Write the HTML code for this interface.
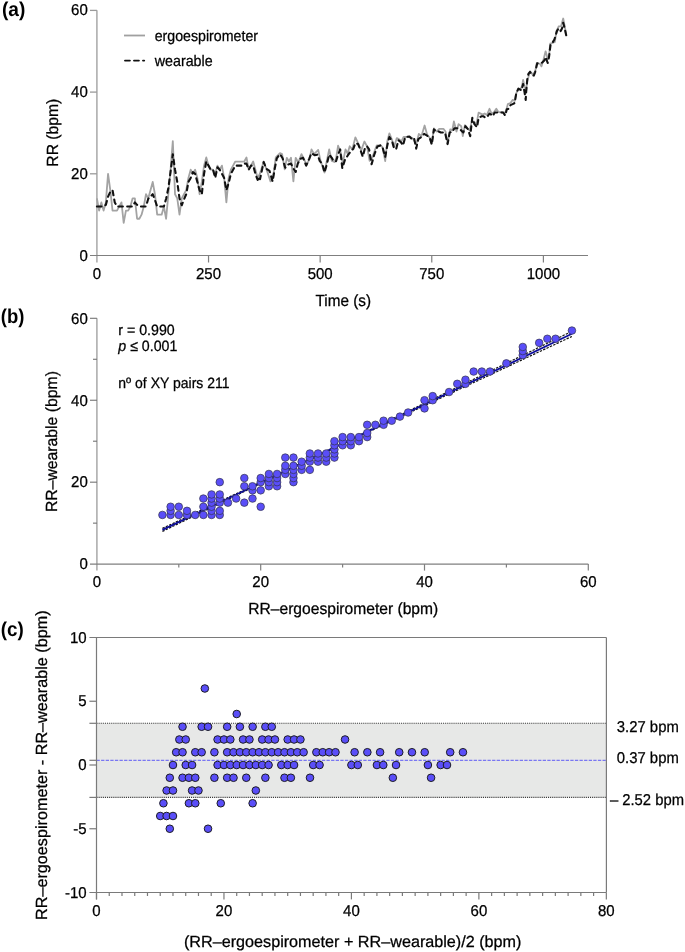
<!DOCTYPE html>
<html><head><meta charset="utf-8"><title>RR figure</title>
<style>
html,body{margin:0;padding:0;background:#fff;}
body{width:685px;height:952px;overflow:hidden;}
svg{display:block;font-family:'Liberation Sans', Arial, Helvetica, sans-serif;text-rendering:geometricPrecision;}
</style></head>
<body>
<svg width="685" height="952" viewBox="0 0 685 952">
<rect width="685" height="952" fill="#fff"/>
<text transform="translate(2.00,16.00) scale(1,1.06)" font-size="19" text-anchor="start" font-weight="bold" textLength="23.4" lengthAdjust="spacingAndGlyphs" fill="#000" stroke="#000" stroke-width="0" >(a)</text>
<line x1="96.90" y1="10.30" x2="96.90" y2="262.50" stroke="#a8a8a8" stroke-width="1.5" />
<line x1="90.00" y1="255.50" x2="588.00" y2="255.50" stroke="#7f7f7f" stroke-width="1.2" />
<line x1="90.00" y1="173.80" x2="96.90" y2="173.80" stroke="#9a9a9a" stroke-width="1.3" />
<line x1="90.00" y1="92.10" x2="96.90" y2="92.10" stroke="#9a9a9a" stroke-width="1.3" />
<line x1="90.00" y1="10.40" x2="96.90" y2="10.40" stroke="#9a9a9a" stroke-width="1.3" />
<line x1="208.53" y1="255.50" x2="208.53" y2="262.50" stroke="#7f7f7f" stroke-width="1.2" />
<line x1="320.15" y1="255.50" x2="320.15" y2="262.50" stroke="#7f7f7f" stroke-width="1.2" />
<line x1="431.77" y1="255.50" x2="431.77" y2="262.50" stroke="#7f7f7f" stroke-width="1.2" />
<line x1="543.40" y1="255.50" x2="543.40" y2="262.50" stroke="#7f7f7f" stroke-width="1.2" />
<text transform="translate(87.80,260.75) scale(1,1.05)" font-size="15" text-anchor="end" fill="#000" stroke="#000" stroke-width="0.25" >0</text>
<text transform="translate(87.80,179.15) scale(1,1.05)" font-size="15" text-anchor="end" fill="#000" stroke="#000" stroke-width="0.25" >20</text>
<text transform="translate(87.80,96.75) scale(1,1.05)" font-size="15" text-anchor="end" fill="#000" stroke="#000" stroke-width="0.25" >40</text>
<text transform="translate(87.80,15.05) scale(1,1.05)" font-size="15" text-anchor="end" fill="#000" stroke="#000" stroke-width="0.25" >60</text>
<text transform="translate(96.90,278.90) scale(1,1.05)" font-size="15" text-anchor="middle" fill="#000" stroke="#000" stroke-width="0.25" >0</text>
<text transform="translate(208.53,278.90) scale(1,1.05)" font-size="15" text-anchor="middle" fill="#000" stroke="#000" stroke-width="0.25" >250</text>
<text transform="translate(320.15,278.90) scale(1,1.05)" font-size="15" text-anchor="middle" fill="#000" stroke="#000" stroke-width="0.25" >500</text>
<text transform="translate(431.77,278.90) scale(1,1.05)" font-size="15" text-anchor="middle" fill="#000" stroke="#000" stroke-width="0.25" >750</text>
<text transform="translate(543.40,278.90) scale(1,1.05)" font-size="15" text-anchor="middle" fill="#000" stroke="#000" stroke-width="0.25" >1000</text>
<text transform="translate(343.30,306.30) scale(1,1.05)" font-size="15.4" text-anchor="middle" textLength="55.5" lengthAdjust="spacingAndGlyphs" fill="#000" stroke="#000" stroke-width="0.25" >Time (s)</text>
<text transform="translate(58.20,132.65) rotate(-90) scale(1,1.05)" font-size="15.4" text-anchor="middle" textLength="68" lengthAdjust="spacingAndGlyphs" fill="#000" stroke="#000" stroke-width="0.25" >RR (bpm)</text>
<line x1="124.00" y1="35.50" x2="145.00" y2="35.50" stroke="#a0a0a0" stroke-width="1.8" />
<text transform="translate(154.70,40.60) scale(1,1.05)" font-size="14.6" text-anchor="start" textLength="103.3" lengthAdjust="spacingAndGlyphs" fill="#000" stroke="#000" stroke-width="0.25" >ergoespirometer</text>
<line x1="125.00" y1="60.60" x2="144.20" y2="60.60" stroke="#111" stroke-width="1.9" stroke-dasharray="4.9,4.1" stroke-linecap="round"/>
<text transform="translate(154.70,65.70) scale(1,1.05)" font-size="14.6" text-anchor="start" textLength="58.0" lengthAdjust="spacingAndGlyphs" fill="#000" stroke="#000" stroke-width="0.25" >wearable</text>
<polyline points="96.90,198.31 99.13,210.56 101.37,202.40 103.60,210.56 105.83,202.40 108.06,173.80 110.30,190.14 112.53,210.56 114.76,210.56 116.99,210.56 119.23,206.48 121.46,202.40 123.69,222.82 125.92,210.56 128.16,210.56 130.39,206.48 132.62,198.31 134.85,198.31 137.09,218.74 139.32,218.74 141.55,214.65 143.78,206.48 146.01,194.22 148.25,198.31 150.48,190.14 152.71,181.97 154.94,194.22 157.18,214.65 159.41,214.65 161.64,214.65 163.88,206.48 166.11,218.74 168.34,194.22 170.57,169.72 172.81,141.12 175.04,194.22 177.27,198.31 179.50,214.65 181.74,198.31 183.97,194.22 186.20,190.14 188.43,177.88 190.67,169.72 192.90,173.80 195.13,169.72 197.36,177.88 199.59,194.22 201.83,181.97 204.06,165.63 206.29,157.46 208.53,165.63 210.76,169.72 212.99,169.72 215.22,173.80 217.45,165.63 219.69,169.72 221.92,165.63 224.15,177.88 226.38,202.40 228.62,177.88 230.85,169.72 233.08,165.63 235.31,161.55 237.55,161.55 239.78,161.55 242.01,161.55 244.25,161.55 246.48,157.46 248.71,169.72 250.94,165.63 253.18,161.55 255.41,169.72 257.64,177.88 259.87,173.80 261.10,169.90 263.70,161.50 266.30,168.80 270.50,181.40 273.10,177.20 275.80,157.30 280.00,153.10 282.10,154.10 284.70,169.30 286.80,157.80 288.90,161.50 291.00,157.80 293.40,181.40 295.70,157.80 298.30,162.50 301.50,154.10 304.10,159.40 306.70,164.60 309.40,159.40 311.50,149.40 314.10,154.10 318.20,149.90 320.30,159.90 324.50,172.50 326.60,162.00 329.20,149.40 331.80,160.90 334.40,162.00 336.00,158.80 338.10,145.70 340.70,152.50 342.80,163.00 345.50,149.40 347.60,153.60 349.70,146.20 352.30,149.40 355.40,137.30 358.10,143.10 361.20,150.40 364.40,141.50 367.00,146.20 369.60,160.90 372.10,158.00 374.70,150.70 376.80,145.40 380.50,145.40 382.60,147.50 385.20,161.20 387.30,141.20 389.40,133.30 392.10,140.20 394.20,146.50 396.80,138.10 398.90,139.10 401.50,141.20 403.60,137.00 405.70,137.00 409.90,137.00 412.50,138.10 416.20,144.40 418.80,133.90 421.50,136.00 424.60,125.50 427.10,134.60 429.70,137.80 431.80,143.00 433.90,128.30 436.60,131.50 439.20,128.80 443.40,128.80 445.50,131.50 447.60,143.00 450.20,129.40 452.30,130.40 453.90,121.50 456.50,131.50 458.60,124.10 461.20,126.20 462.80,136.20 464.90,125.20 467.50,128.30 469.60,130.40 471.70,122.00 473.80,121.50 476.50,124.10 478.60,112.60 482.60,114.60 484.70,113.50 486.80,115.10 489.50,108.80 491.60,113.50 493.70,112.50 496.30,108.80 498.40,112.00 504.20,112.50 505.70,112.50 507.80,104.10 510.50,103.00 512.60,99.90 514.70,100.90 516.20,93.60 518.30,88.30 520.40,89.40 522.00,86.20 523.10,79.90 524.60,86.20 526.20,90.40 527.30,81.00 530.00,71.40 532.60,74.40 535.10,71.80 536.80,63.00 540.10,63.90 541.40,66.40 543.10,61.30 545.60,51.30 547.70,58.80 549.00,56.30 550.20,43.70 552.70,42.90 554.80,42.00 556.50,31.10 558.60,26.50 561.10,26.10 563.20,18.50 564.50,25.20 566.20,34.50" fill="none" stroke="#a3a3a3" stroke-width="1.8" stroke-linejoin="round" />
<polyline points="96.90,206.48 99.13,206.48 101.37,206.48 103.60,206.48 105.83,204.85 108.06,196.68 110.30,191.77 112.53,190.14 114.76,202.40 116.99,206.48 119.23,206.48 121.46,206.48 123.69,206.48 125.92,206.48 128.16,206.48 130.39,206.48 132.62,206.48 134.85,202.40 137.09,204.85 139.32,206.48 141.55,206.48 143.78,206.48 146.01,206.48 148.25,198.72 150.48,196.68 152.71,194.22 154.94,199.94 157.18,206.48 159.41,206.48 161.64,206.48 163.88,206.48 166.11,198.72 168.34,188.10 170.57,171.76 172.81,154.19 175.04,169.72 177.27,181.97 179.50,198.31 181.74,205.25 183.97,199.54 186.20,194.22 188.43,181.97 190.67,177.88 192.90,172.17 195.13,173.80 197.36,181.97 199.59,190.14 201.83,194.22 204.06,173.80 206.29,161.55 208.53,165.63 210.76,169.72 212.99,169.72 215.22,177.88 217.45,167.26 219.69,169.72 221.92,173.80 224.15,177.88 226.38,190.14 228.62,183.20 230.85,173.80 233.08,169.72 235.31,165.63 237.55,165.63 239.78,165.63 242.01,165.63 244.25,163.59 246.48,163.59 248.71,169.72 250.94,165.63 253.18,165.63 255.41,173.80 257.64,179.93 259.87,176.66 260.00,179.30 263.70,162.00 266.30,168.80 269.50,170.90 272.60,181.40 274.70,168.80 276.80,158.30 280.00,154.10 282.60,158.30 285.20,167.80 287.80,164.60 291.00,163.60 293.60,168.80 295.70,172.00 297.80,163.60 300.40,158.80 303.10,157.80 306.20,165.70 309.40,158.30 311.50,153.10 314.60,155.20 317.60,154.60 319.70,160.90 322.40,164.10 324.50,172.50 326.60,165.10 329.20,154.60 331.80,157.80 333.40,160.90 336.00,161.40 338.10,154.60 340.20,149.40 342.30,168.30 344.90,159.90 347.60,155.70 350.70,151.50 353.30,148.80 355.40,143.10 358.10,144.10 360.20,149.40 362.80,156.70 364.90,148.30 367.00,146.20 369.10,149.40 371.60,164.30 374.20,154.90 377.40,146.50 380.50,145.40 382.60,147.50 385.20,157.00 387.30,145.40 389.40,137.00 392.10,141.20 394.20,149.10 396.30,148.60 398.40,140.20 401.00,142.30 403.10,145.40 405.20,137.00 409.40,136.50 412.00,139.10 414.10,138.10 416.20,148.60 418.30,139.10 421.50,137.00 424.10,133.90 427.10,135.70 429.70,137.80 431.80,144.60 433.90,129.40 436.60,132.00 438.70,131.50 440.80,132.50 445.00,132.50 447.60,144.10 449.70,132.50 452.30,132.00 454.40,128.30 458.60,128.30 461.20,130.40 463.30,132.50 465.40,126.20 468.10,129.40 470.20,136.20 471.20,127.30 472.30,117.80 474.40,124.10 477.00,127.30 478.60,117.80 481.70,116.20 483.20,116.20 485.30,117.70 487.40,116.70 489.50,113.50 491.00,114.60 492.60,116.20 494.70,112.50 497.90,112.50 503.10,112.50 505.20,115.60 506.80,109.30 508.90,108.80 510.50,105.10 512.60,104.10 514.70,103.00 516.20,93.60 518.30,88.80 519.90,89.40 521.50,90.40 523.10,84.10 524.60,92.50 525.70,99.90 526.20,91.50 527.30,79.00 528.40,73.90 530.00,71.80 532.10,75.20 533.80,75.60 535.10,72.30 536.30,67.20 537.20,63.40 539.70,63.40 542.20,62.60 544.30,60.50 545.60,57.10 547.70,63.00 549.00,57.10 549.80,50.40 550.60,44.50 551.90,43.70 554.40,39.50 555.70,35.30 556.90,31.10 558.20,29.00 559.90,28.60 560.70,31.10 562.00,28.60 563.20,22.70 564.50,27.70 566.20,35.30" fill="none" stroke="#111" stroke-width="2.1" stroke-linejoin="round" stroke-dasharray="4.6,4.3" stroke-linecap="round"/>
<text transform="translate(0.80,322.90) scale(1,1.06)" font-size="19" text-anchor="start" font-weight="bold" textLength="23.6" lengthAdjust="spacingAndGlyphs" fill="#000" stroke="#000" stroke-width="0" >(b)</text>
<line x1="96.90" y1="318.30" x2="96.90" y2="570.60" stroke="#a8a8a8" stroke-width="1.5" />
<line x1="90.00" y1="564.10" x2="588.30" y2="564.10" stroke="#7f7f7f" stroke-width="1.2" />
<line x1="90.00" y1="482.16" x2="96.90" y2="482.16" stroke="#666" stroke-width="1.0" />
<line x1="90.00" y1="400.22" x2="96.90" y2="400.22" stroke="#666" stroke-width="1.0" />
<line x1="90.00" y1="318.28" x2="96.90" y2="318.28" stroke="#666" stroke-width="1.0" />
<line x1="93.00" y1="523.13" x2="96.90" y2="523.13" stroke="#666" stroke-width="1.0" />
<line x1="93.00" y1="441.19" x2="96.90" y2="441.19" stroke="#666" stroke-width="1.0" />
<line x1="93.00" y1="359.25" x2="96.90" y2="359.25" stroke="#666" stroke-width="1.0" />
<line x1="260.70" y1="564.10" x2="260.70" y2="570.60" stroke="#7f7f7f" stroke-width="1.2" />
<line x1="424.50" y1="564.10" x2="424.50" y2="570.60" stroke="#7f7f7f" stroke-width="1.2" />
<line x1="588.30" y1="564.10" x2="588.30" y2="570.60" stroke="#7f7f7f" stroke-width="1.2" />
<line x1="178.80" y1="564.10" x2="178.80" y2="567.60" stroke="#7f7f7f" stroke-width="1.2" />
<line x1="342.60" y1="564.10" x2="342.60" y2="567.60" stroke="#7f7f7f" stroke-width="1.2" />
<line x1="506.40" y1="564.10" x2="506.40" y2="567.60" stroke="#7f7f7f" stroke-width="1.2" />
<text transform="translate(87.80,569.20) scale(1,1.05)" font-size="15" text-anchor="end" fill="#000" stroke="#000" stroke-width="0.25" >0</text>
<text transform="translate(96.90,586.80) scale(1,1.05)" font-size="15" text-anchor="middle" fill="#000" stroke="#000" stroke-width="0.25" >0</text>
<text transform="translate(87.80,487.26) scale(1,1.05)" font-size="15" text-anchor="end" fill="#000" stroke="#000" stroke-width="0.25" >20</text>
<text transform="translate(260.70,586.80) scale(1,1.05)" font-size="15" text-anchor="middle" fill="#000" stroke="#000" stroke-width="0.25" >20</text>
<text transform="translate(87.80,405.62) scale(1,1.05)" font-size="15" text-anchor="end" fill="#000" stroke="#000" stroke-width="0.25" >40</text>
<text transform="translate(424.50,586.80) scale(1,1.05)" font-size="15" text-anchor="middle" fill="#000" stroke="#000" stroke-width="0.25" >40</text>
<text transform="translate(87.80,323.88) scale(1,1.05)" font-size="15" text-anchor="end" fill="#000" stroke="#000" stroke-width="0.25" >60</text>
<text transform="translate(588.30,586.80) scale(1,1.05)" font-size="15" text-anchor="middle" fill="#000" stroke="#000" stroke-width="0.25" >60</text>
<text transform="translate(343.25,613.80) scale(1,1.05)" font-size="15.4" text-anchor="middle" textLength="190" lengthAdjust="spacingAndGlyphs" fill="#000" stroke="#000" stroke-width="0.25" >RR–ergoespirometer (bpm)</text>
<text transform="translate(57.40,441.60) rotate(-90) scale(1,1.05)" font-size="15.4" text-anchor="middle" textLength="141" lengthAdjust="spacingAndGlyphs" fill="#000" stroke="#000" stroke-width="0.25" >RR–wearable (bpm)</text>
<text transform="translate(118.30,334.50) scale(1,1.05)" font-size="14.2" text-anchor="start" fill="#000" stroke="#000" stroke-width="0.25" >r = 0.990</text>
<text transform="translate(118.3,351) scale(1,1.05)" font-size="14.2" fill="#000" stroke="#000" stroke-width="0.25"><tspan font-style="italic">p</tspan> ≤ 0.001</text>
<text transform="translate(118.30,388.00) scale(1,1.05)" font-size="14.2" text-anchor="start" textLength="111.2" lengthAdjust="spacingAndGlyphs" fill="#000" stroke="#000" stroke-width="0.25" >nº of XY pairs 211</text>
<path d="M162.42,528.39 L170.61,524.54 L178.80,520.70 L186.99,516.85 L195.18,513.00 L203.37,509.15 L211.56,505.30 L219.75,501.45 L227.94,497.60 L236.13,493.75 L244.32,489.89 L252.51,486.03 L260.70,482.17 L268.89,478.31 L277.08,474.43 L285.27,470.55 L293.46,466.66 L301.65,462.76 L309.84,458.85 L318.03,454.92 L326.22,450.98 L334.41,447.03 L342.60,443.07 L350.79,439.10 L358.98,435.12 L367.17,431.14 L375.36,427.16 L383.55,423.17 L391.74,419.19 L399.93,415.20 L408.12,411.20 L416.31,407.21 L424.50,403.22 L432.69,399.22 L440.88,395.23 L449.07,391.23 L457.26,387.24 L465.45,383.24 L473.64,379.25 L481.83,375.25 L490.02,371.25 L498.21,367.25 L506.40,363.26 L514.59,359.26 L522.78,355.26 L530.97,351.26 L539.16,347.26 L547.35,343.27 L555.54,339.27 L563.73,335.27 L571.92,331.27" fill="none" stroke="#111" stroke-width="1.2" stroke-dasharray="2.4,1.3"/>
<path d="M162.42,531.39 L170.61,527.40 L178.80,523.40 L186.99,519.41 L195.18,515.41 L203.37,511.42 L211.56,507.43 L219.75,503.43 L227.94,499.44 L236.13,495.46 L244.32,491.47 L252.51,487.49 L260.70,483.51 L268.89,479.53 L277.08,475.56 L285.27,471.60 L293.46,467.65 L301.65,463.71 L309.84,459.78 L318.03,455.87 L326.22,451.97 L334.41,448.08 L342.60,444.20 L350.79,440.32 L358.98,436.46 L367.17,432.60 L375.36,428.74 L383.55,424.88 L391.74,421.03 L399.93,417.18 L408.12,413.33 L416.31,409.48 L424.50,405.63 L432.69,401.78 L440.88,397.93 L449.07,394.09 L457.26,390.24 L465.45,386.40 L473.64,382.55 L481.83,378.71 L490.02,374.86 L498.21,371.02 L506.40,367.17 L514.59,363.33 L522.78,359.49 L530.97,355.64 L539.16,351.80 L547.35,347.96 L555.54,344.11 L563.73,340.27 L571.92,336.43" fill="none" stroke="#111" stroke-width="1.2" stroke-dasharray="2.4,1.3"/>
<line x1="162.42" y1="529.89" x2="571.92" y2="333.85" stroke="#0c0c9a" stroke-width="1.7" />
<circle cx="260.70" cy="506.74" r="3.8" fill="#5a4ef8" stroke="#34344a" stroke-width="0.7"/>
<circle cx="293.46" cy="482.16" r="3.8" fill="#5a4ef8" stroke="#34344a" stroke-width="0.7"/>
<circle cx="219.75" cy="514.94" r="3.8" fill="#5a4ef8" stroke="#34344a" stroke-width="0.7"/>
<circle cx="244.32" cy="502.65" r="3.8" fill="#5a4ef8" stroke="#34344a" stroke-width="0.7"/>
<circle cx="252.51" cy="498.55" r="3.8" fill="#5a4ef8" stroke="#34344a" stroke-width="0.7"/>
<circle cx="277.08" cy="486.26" r="3.8" fill="#5a4ef8" stroke="#34344a" stroke-width="0.7"/>
<circle cx="293.46" cy="478.06" r="3.8" fill="#5a4ef8" stroke="#34344a" stroke-width="0.7"/>
<circle cx="309.84" cy="469.87" r="3.8" fill="#5a4ef8" stroke="#34344a" stroke-width="0.7"/>
<circle cx="326.22" cy="461.68" r="3.8" fill="#5a4ef8" stroke="#34344a" stroke-width="0.7"/>
<circle cx="334.41" cy="457.58" r="3.8" fill="#5a4ef8" stroke="#34344a" stroke-width="0.7"/>
<circle cx="211.56" cy="514.94" r="3.8" fill="#5a4ef8" stroke="#34344a" stroke-width="0.7"/>
<circle cx="219.75" cy="510.84" r="3.8" fill="#5a4ef8" stroke="#34344a" stroke-width="0.7"/>
<circle cx="260.70" cy="490.35" r="3.8" fill="#5a4ef8" stroke="#34344a" stroke-width="0.7"/>
<circle cx="268.89" cy="486.26" r="3.8" fill="#5a4ef8" stroke="#34344a" stroke-width="0.7"/>
<circle cx="277.08" cy="482.16" r="3.8" fill="#5a4ef8" stroke="#34344a" stroke-width="0.7"/>
<circle cx="293.46" cy="473.97" r="3.8" fill="#5a4ef8" stroke="#34344a" stroke-width="0.7"/>
<circle cx="301.65" cy="469.87" r="3.8" fill="#5a4ef8" stroke="#34344a" stroke-width="0.7"/>
<circle cx="318.03" cy="461.68" r="3.8" fill="#5a4ef8" stroke="#34344a" stroke-width="0.7"/>
<circle cx="326.22" cy="457.58" r="3.8" fill="#5a4ef8" stroke="#34344a" stroke-width="0.7"/>
<circle cx="334.41" cy="453.48" r="3.8" fill="#5a4ef8" stroke="#34344a" stroke-width="0.7"/>
<circle cx="350.79" cy="445.29" r="3.8" fill="#5a4ef8" stroke="#34344a" stroke-width="0.7"/>
<circle cx="358.98" cy="441.19" r="3.8" fill="#5a4ef8" stroke="#34344a" stroke-width="0.7"/>
<circle cx="367.17" cy="437.09" r="3.8" fill="#5a4ef8" stroke="#34344a" stroke-width="0.7"/>
<circle cx="424.50" cy="408.41" r="3.8" fill="#5a4ef8" stroke="#34344a" stroke-width="0.7"/>
<circle cx="203.37" cy="514.94" r="3.8" fill="#5a4ef8" stroke="#34344a" stroke-width="0.7"/>
<circle cx="211.56" cy="510.84" r="3.8" fill="#5a4ef8" stroke="#34344a" stroke-width="0.7"/>
<circle cx="227.94" cy="502.65" r="3.8" fill="#5a4ef8" stroke="#34344a" stroke-width="0.7"/>
<circle cx="236.13" cy="498.55" r="3.8" fill="#5a4ef8" stroke="#34344a" stroke-width="0.7"/>
<circle cx="252.51" cy="490.35" r="3.8" fill="#5a4ef8" stroke="#34344a" stroke-width="0.7"/>
<circle cx="268.89" cy="482.16" r="3.8" fill="#5a4ef8" stroke="#34344a" stroke-width="0.7"/>
<circle cx="277.08" cy="478.06" r="3.8" fill="#5a4ef8" stroke="#34344a" stroke-width="0.7"/>
<circle cx="285.27" cy="473.97" r="3.8" fill="#5a4ef8" stroke="#34344a" stroke-width="0.7"/>
<circle cx="293.46" cy="469.87" r="3.8" fill="#5a4ef8" stroke="#34344a" stroke-width="0.7"/>
<circle cx="301.65" cy="465.77" r="3.8" fill="#5a4ef8" stroke="#34344a" stroke-width="0.7"/>
<circle cx="309.84" cy="461.68" r="3.8" fill="#5a4ef8" stroke="#34344a" stroke-width="0.7"/>
<circle cx="318.03" cy="457.58" r="3.8" fill="#5a4ef8" stroke="#34344a" stroke-width="0.7"/>
<circle cx="326.22" cy="453.48" r="3.8" fill="#5a4ef8" stroke="#34344a" stroke-width="0.7"/>
<circle cx="334.41" cy="449.38" r="3.8" fill="#5a4ef8" stroke="#34344a" stroke-width="0.7"/>
<circle cx="342.60" cy="445.29" r="3.8" fill="#5a4ef8" stroke="#34344a" stroke-width="0.7"/>
<circle cx="350.79" cy="441.19" r="3.8" fill="#5a4ef8" stroke="#34344a" stroke-width="0.7"/>
<circle cx="358.98" cy="437.09" r="3.8" fill="#5a4ef8" stroke="#34344a" stroke-width="0.7"/>
<circle cx="367.17" cy="433.00" r="3.8" fill="#5a4ef8" stroke="#34344a" stroke-width="0.7"/>
<circle cx="383.55" cy="424.80" r="3.8" fill="#5a4ef8" stroke="#34344a" stroke-width="0.7"/>
<circle cx="391.74" cy="420.71" r="3.8" fill="#5a4ef8" stroke="#34344a" stroke-width="0.7"/>
<circle cx="399.93" cy="416.61" r="3.8" fill="#5a4ef8" stroke="#34344a" stroke-width="0.7"/>
<circle cx="408.12" cy="412.51" r="3.8" fill="#5a4ef8" stroke="#34344a" stroke-width="0.7"/>
<circle cx="432.69" cy="400.22" r="3.8" fill="#5a4ef8" stroke="#34344a" stroke-width="0.7"/>
<circle cx="449.07" cy="392.03" r="3.8" fill="#5a4ef8" stroke="#34344a" stroke-width="0.7"/>
<circle cx="465.45" cy="383.83" r="3.8" fill="#5a4ef8" stroke="#34344a" stroke-width="0.7"/>
<circle cx="490.02" cy="371.54" r="3.8" fill="#5a4ef8" stroke="#34344a" stroke-width="0.7"/>
<circle cx="506.40" cy="363.35" r="3.8" fill="#5a4ef8" stroke="#34344a" stroke-width="0.7"/>
<circle cx="522.78" cy="355.15" r="3.8" fill="#5a4ef8" stroke="#34344a" stroke-width="0.7"/>
<circle cx="555.54" cy="338.76" r="3.8" fill="#5a4ef8" stroke="#34344a" stroke-width="0.7"/>
<circle cx="571.92" cy="330.57" r="3.8" fill="#5a4ef8" stroke="#34344a" stroke-width="0.7"/>
<circle cx="195.18" cy="514.94" r="3.8" fill="#5a4ef8" stroke="#34344a" stroke-width="0.7"/>
<circle cx="211.56" cy="506.74" r="3.8" fill="#5a4ef8" stroke="#34344a" stroke-width="0.7"/>
<circle cx="219.75" cy="502.65" r="3.8" fill="#5a4ef8" stroke="#34344a" stroke-width="0.7"/>
<circle cx="252.51" cy="486.26" r="3.8" fill="#5a4ef8" stroke="#34344a" stroke-width="0.7"/>
<circle cx="260.70" cy="482.16" r="3.8" fill="#5a4ef8" stroke="#34344a" stroke-width="0.7"/>
<circle cx="268.89" cy="478.06" r="3.8" fill="#5a4ef8" stroke="#34344a" stroke-width="0.7"/>
<circle cx="277.08" cy="473.97" r="3.8" fill="#5a4ef8" stroke="#34344a" stroke-width="0.7"/>
<circle cx="285.27" cy="469.87" r="3.8" fill="#5a4ef8" stroke="#34344a" stroke-width="0.7"/>
<circle cx="293.46" cy="465.77" r="3.8" fill="#5a4ef8" stroke="#34344a" stroke-width="0.7"/>
<circle cx="301.65" cy="461.68" r="3.8" fill="#5a4ef8" stroke="#34344a" stroke-width="0.7"/>
<circle cx="309.84" cy="457.58" r="3.8" fill="#5a4ef8" stroke="#34344a" stroke-width="0.7"/>
<circle cx="318.03" cy="453.48" r="3.8" fill="#5a4ef8" stroke="#34344a" stroke-width="0.7"/>
<circle cx="334.41" cy="445.29" r="3.8" fill="#5a4ef8" stroke="#34344a" stroke-width="0.7"/>
<circle cx="342.60" cy="441.19" r="3.8" fill="#5a4ef8" stroke="#34344a" stroke-width="0.7"/>
<circle cx="350.79" cy="437.09" r="3.8" fill="#5a4ef8" stroke="#34344a" stroke-width="0.7"/>
<circle cx="375.36" cy="424.80" r="3.8" fill="#5a4ef8" stroke="#34344a" stroke-width="0.7"/>
<circle cx="383.55" cy="420.71" r="3.8" fill="#5a4ef8" stroke="#34344a" stroke-width="0.7"/>
<circle cx="424.50" cy="400.22" r="3.8" fill="#5a4ef8" stroke="#34344a" stroke-width="0.7"/>
<circle cx="432.69" cy="396.12" r="3.8" fill="#5a4ef8" stroke="#34344a" stroke-width="0.7"/>
<circle cx="457.26" cy="383.83" r="3.8" fill="#5a4ef8" stroke="#34344a" stroke-width="0.7"/>
<circle cx="465.45" cy="379.74" r="3.8" fill="#5a4ef8" stroke="#34344a" stroke-width="0.7"/>
<circle cx="481.83" cy="371.54" r="3.8" fill="#5a4ef8" stroke="#34344a" stroke-width="0.7"/>
<circle cx="522.78" cy="351.06" r="3.8" fill="#5a4ef8" stroke="#34344a" stroke-width="0.7"/>
<circle cx="539.16" cy="342.86" r="3.8" fill="#5a4ef8" stroke="#34344a" stroke-width="0.7"/>
<circle cx="547.35" cy="338.76" r="3.8" fill="#5a4ef8" stroke="#34344a" stroke-width="0.7"/>
<circle cx="186.99" cy="514.94" r="3.8" fill="#5a4ef8" stroke="#34344a" stroke-width="0.7"/>
<circle cx="203.37" cy="506.74" r="3.8" fill="#5a4ef8" stroke="#34344a" stroke-width="0.7"/>
<circle cx="211.56" cy="502.65" r="3.8" fill="#5a4ef8" stroke="#34344a" stroke-width="0.7"/>
<circle cx="219.75" cy="498.55" r="3.8" fill="#5a4ef8" stroke="#34344a" stroke-width="0.7"/>
<circle cx="244.32" cy="486.26" r="3.8" fill="#5a4ef8" stroke="#34344a" stroke-width="0.7"/>
<circle cx="260.70" cy="478.06" r="3.8" fill="#5a4ef8" stroke="#34344a" stroke-width="0.7"/>
<circle cx="268.89" cy="473.97" r="3.8" fill="#5a4ef8" stroke="#34344a" stroke-width="0.7"/>
<circle cx="285.27" cy="465.77" r="3.8" fill="#5a4ef8" stroke="#34344a" stroke-width="0.7"/>
<circle cx="309.84" cy="453.48" r="3.8" fill="#5a4ef8" stroke="#34344a" stroke-width="0.7"/>
<circle cx="334.41" cy="441.19" r="3.8" fill="#5a4ef8" stroke="#34344a" stroke-width="0.7"/>
<circle cx="342.60" cy="437.09" r="3.8" fill="#5a4ef8" stroke="#34344a" stroke-width="0.7"/>
<circle cx="367.17" cy="424.80" r="3.8" fill="#5a4ef8" stroke="#34344a" stroke-width="0.7"/>
<circle cx="473.64" cy="371.54" r="3.8" fill="#5a4ef8" stroke="#34344a" stroke-width="0.7"/>
<circle cx="522.78" cy="346.96" r="3.8" fill="#5a4ef8" stroke="#34344a" stroke-width="0.7"/>
<circle cx="178.80" cy="514.94" r="3.8" fill="#5a4ef8" stroke="#34344a" stroke-width="0.7"/>
<circle cx="186.99" cy="510.84" r="3.8" fill="#5a4ef8" stroke="#34344a" stroke-width="0.7"/>
<circle cx="211.56" cy="498.55" r="3.8" fill="#5a4ef8" stroke="#34344a" stroke-width="0.7"/>
<circle cx="219.75" cy="494.45" r="3.8" fill="#5a4ef8" stroke="#34344a" stroke-width="0.7"/>
<circle cx="293.46" cy="457.58" r="3.8" fill="#5a4ef8" stroke="#34344a" stroke-width="0.7"/>
<circle cx="170.61" cy="514.94" r="3.8" fill="#5a4ef8" stroke="#34344a" stroke-width="0.7"/>
<circle cx="203.37" cy="498.55" r="3.8" fill="#5a4ef8" stroke="#34344a" stroke-width="0.7"/>
<circle cx="211.56" cy="494.45" r="3.8" fill="#5a4ef8" stroke="#34344a" stroke-width="0.7"/>
<circle cx="244.32" cy="478.06" r="3.8" fill="#5a4ef8" stroke="#34344a" stroke-width="0.7"/>
<circle cx="285.27" cy="457.58" r="3.8" fill="#5a4ef8" stroke="#34344a" stroke-width="0.7"/>
<circle cx="162.42" cy="514.94" r="3.8" fill="#5a4ef8" stroke="#34344a" stroke-width="0.7"/>
<circle cx="170.61" cy="510.84" r="3.8" fill="#5a4ef8" stroke="#34344a" stroke-width="0.7"/>
<circle cx="178.80" cy="506.74" r="3.8" fill="#5a4ef8" stroke="#34344a" stroke-width="0.7"/>
<circle cx="170.61" cy="506.74" r="3.8" fill="#5a4ef8" stroke="#34344a" stroke-width="0.7"/>
<circle cx="219.75" cy="482.16" r="3.8" fill="#5a4ef8" stroke="#34344a" stroke-width="0.7"/>
<text transform="translate(0.80,635.90) scale(1,1.06)" font-size="19" text-anchor="start" font-weight="bold" textLength="23.0" lengthAdjust="spacingAndGlyphs" fill="#000" stroke="#000" stroke-width="0" >(c)</text>
<rect x="96.5" y="723.3" width="509.90" height="74.10" fill="#e7e8e7"/>
<line x1="96.50" y1="723.30" x2="606.40" y2="723.30" stroke="#3a3a3a" stroke-width="1.1" stroke-dasharray="1.1,1.0"/>
<line x1="96.50" y1="797.40" x2="606.40" y2="797.40" stroke="#3a3a3a" stroke-width="1.1" stroke-dasharray="1.1,1.0"/>
<line x1="96.50" y1="760.30" x2="606.40" y2="760.30" stroke="#5f5af5" stroke-width="1" stroke-dasharray="3.3,1.3" stroke-dashoffset="0"/>
<line x1="89.40" y1="723.30" x2="96.50" y2="723.30" stroke="#7a7a7a" stroke-width="1.2" />
<line x1="89.40" y1="760.30" x2="96.50" y2="760.30" stroke="#7a7a7a" stroke-width="1.2" />
<line x1="89.40" y1="797.40" x2="96.50" y2="797.40" stroke="#7a7a7a" stroke-width="1.2" />
<line x1="96.50" y1="637.50" x2="96.50" y2="899.40" stroke="#7a7a7a" stroke-width="1.2" />
<line x1="89.40" y1="892.50" x2="606.40" y2="892.50" stroke="#7a7a7a" stroke-width="1.2" />
<line x1="89.40" y1="637.50" x2="606.40" y2="637.50" stroke="#7a7a7a" stroke-width="1.2" />
<line x1="606.40" y1="637.50" x2="606.40" y2="892.50" stroke="#7a7a7a" stroke-width="1.2" />
<line x1="89.40" y1="701.25" x2="96.50" y2="701.25" stroke="#7a7a7a" stroke-width="1.2" />
<line x1="89.40" y1="765.00" x2="96.50" y2="765.00" stroke="#7a7a7a" stroke-width="1.2" />
<line x1="89.40" y1="828.75" x2="96.50" y2="828.75" stroke="#7a7a7a" stroke-width="1.2" />
<line x1="96.50" y1="892.50" x2="96.50" y2="899.40" stroke="#7a7a7a" stroke-width="1.2" />
<line x1="109.25" y1="892.50" x2="109.25" y2="896.00" stroke="#7a7a7a" stroke-width="1.2" />
<line x1="121.99" y1="892.50" x2="121.99" y2="896.00" stroke="#7a7a7a" stroke-width="1.2" />
<line x1="134.74" y1="892.50" x2="134.74" y2="896.00" stroke="#7a7a7a" stroke-width="1.2" />
<line x1="147.48" y1="892.50" x2="147.48" y2="896.00" stroke="#7a7a7a" stroke-width="1.2" />
<line x1="160.23" y1="892.50" x2="160.23" y2="896.00" stroke="#7a7a7a" stroke-width="1.2" />
<line x1="172.98" y1="892.50" x2="172.98" y2="896.00" stroke="#7a7a7a" stroke-width="1.2" />
<line x1="185.72" y1="892.50" x2="185.72" y2="896.00" stroke="#7a7a7a" stroke-width="1.2" />
<line x1="198.47" y1="892.50" x2="198.47" y2="896.00" stroke="#7a7a7a" stroke-width="1.2" />
<line x1="211.21" y1="892.50" x2="211.21" y2="896.00" stroke="#7a7a7a" stroke-width="1.2" />
<line x1="223.96" y1="892.50" x2="223.96" y2="899.40" stroke="#7a7a7a" stroke-width="1.2" />
<line x1="236.71" y1="892.50" x2="236.71" y2="896.00" stroke="#7a7a7a" stroke-width="1.2" />
<line x1="249.45" y1="892.50" x2="249.45" y2="896.00" stroke="#7a7a7a" stroke-width="1.2" />
<line x1="262.20" y1="892.50" x2="262.20" y2="896.00" stroke="#7a7a7a" stroke-width="1.2" />
<line x1="274.94" y1="892.50" x2="274.94" y2="896.00" stroke="#7a7a7a" stroke-width="1.2" />
<line x1="287.69" y1="892.50" x2="287.69" y2="896.00" stroke="#7a7a7a" stroke-width="1.2" />
<line x1="300.44" y1="892.50" x2="300.44" y2="896.00" stroke="#7a7a7a" stroke-width="1.2" />
<line x1="313.18" y1="892.50" x2="313.18" y2="896.00" stroke="#7a7a7a" stroke-width="1.2" />
<line x1="325.93" y1="892.50" x2="325.93" y2="896.00" stroke="#7a7a7a" stroke-width="1.2" />
<line x1="338.67" y1="892.50" x2="338.67" y2="896.00" stroke="#7a7a7a" stroke-width="1.2" />
<line x1="351.42" y1="892.50" x2="351.42" y2="899.40" stroke="#7a7a7a" stroke-width="1.2" />
<line x1="364.17" y1="892.50" x2="364.17" y2="896.00" stroke="#7a7a7a" stroke-width="1.2" />
<line x1="376.91" y1="892.50" x2="376.91" y2="896.00" stroke="#7a7a7a" stroke-width="1.2" />
<line x1="389.66" y1="892.50" x2="389.66" y2="896.00" stroke="#7a7a7a" stroke-width="1.2" />
<line x1="402.40" y1="892.50" x2="402.40" y2="896.00" stroke="#7a7a7a" stroke-width="1.2" />
<line x1="415.15" y1="892.50" x2="415.15" y2="896.00" stroke="#7a7a7a" stroke-width="1.2" />
<line x1="427.90" y1="892.50" x2="427.90" y2="896.00" stroke="#7a7a7a" stroke-width="1.2" />
<line x1="440.64" y1="892.50" x2="440.64" y2="896.00" stroke="#7a7a7a" stroke-width="1.2" />
<line x1="453.39" y1="892.50" x2="453.39" y2="896.00" stroke="#7a7a7a" stroke-width="1.2" />
<line x1="466.13" y1="892.50" x2="466.13" y2="896.00" stroke="#7a7a7a" stroke-width="1.2" />
<line x1="478.88" y1="892.50" x2="478.88" y2="899.40" stroke="#7a7a7a" stroke-width="1.2" />
<line x1="491.63" y1="892.50" x2="491.63" y2="896.00" stroke="#7a7a7a" stroke-width="1.2" />
<line x1="504.37" y1="892.50" x2="504.37" y2="896.00" stroke="#7a7a7a" stroke-width="1.2" />
<line x1="517.12" y1="892.50" x2="517.12" y2="896.00" stroke="#7a7a7a" stroke-width="1.2" />
<line x1="529.86" y1="892.50" x2="529.86" y2="896.00" stroke="#7a7a7a" stroke-width="1.2" />
<line x1="542.61" y1="892.50" x2="542.61" y2="896.00" stroke="#7a7a7a" stroke-width="1.2" />
<line x1="555.36" y1="892.50" x2="555.36" y2="896.00" stroke="#7a7a7a" stroke-width="1.2" />
<line x1="568.10" y1="892.50" x2="568.10" y2="896.00" stroke="#7a7a7a" stroke-width="1.2" />
<line x1="580.85" y1="892.50" x2="580.85" y2="896.00" stroke="#7a7a7a" stroke-width="1.2" />
<line x1="593.59" y1="892.50" x2="593.59" y2="896.00" stroke="#7a7a7a" stroke-width="1.2" />
<line x1="606.34" y1="892.50" x2="606.34" y2="899.40" stroke="#7a7a7a" stroke-width="1.2" />
<text transform="translate(86.70,642.75) scale(1,1.05)" font-size="15" text-anchor="end" fill="#000" stroke="#000" stroke-width="0.25" >10</text>
<text transform="translate(86.70,705.70) scale(1,1.05)" font-size="15" text-anchor="end" fill="#000" stroke="#000" stroke-width="0.25" >5</text>
<text transform="translate(86.70,770.25) scale(1,1.05)" font-size="15" text-anchor="end" fill="#000" stroke="#000" stroke-width="0.25" >0</text>
<text transform="translate(86.70,834.00) scale(1,1.05)" font-size="15" text-anchor="end" fill="#000" stroke="#000" stroke-width="0.25" >-5</text>
<text transform="translate(86.70,897.75) scale(1,1.05)" font-size="15" text-anchor="end" fill="#000" stroke="#000" stroke-width="0.25" >-10</text>
<text transform="translate(96.50,915.70) scale(1,1.05)" font-size="15" text-anchor="middle" fill="#000" stroke="#000" stroke-width="0.25" >0</text>
<text transform="translate(223.96,915.70) scale(1,1.05)" font-size="15" text-anchor="middle" fill="#000" stroke="#000" stroke-width="0.25" >20</text>
<text transform="translate(351.42,915.70) scale(1,1.05)" font-size="15" text-anchor="middle" fill="#000" stroke="#000" stroke-width="0.25" >40</text>
<text transform="translate(478.88,915.70) scale(1,1.05)" font-size="15" text-anchor="middle" fill="#000" stroke="#000" stroke-width="0.25" >60</text>
<text transform="translate(606.34,915.70) scale(1,1.05)" font-size="15" text-anchor="middle" fill="#000" stroke="#000" stroke-width="0.25" >80</text>
<text transform="translate(616.80,731.80) scale(1,1.05)" font-size="15" text-anchor="start" textLength="62" lengthAdjust="spacingAndGlyphs" fill="#000" stroke="#000" stroke-width="0.25" >3.27 bpm</text>
<text transform="translate(616.80,763.10) scale(1,1.05)" font-size="15" text-anchor="start" textLength="62" lengthAdjust="spacingAndGlyphs" fill="#000" stroke="#000" stroke-width="0.25" >0.37 bpm</text>
<text transform="translate(609.90,805.20) scale(1,1.05)" font-size="15" text-anchor="start" textLength="74.1" lengthAdjust="spacingAndGlyphs" fill="#000" stroke="#000" stroke-width="0.25" >– 2.52 bpm</text>
<text transform="translate(352.70,947.40) scale(1,1.05)" font-size="15.4" text-anchor="middle" textLength="337.5" lengthAdjust="spacingAndGlyphs" fill="#000" stroke="#000" stroke-width="0.25" >(RR–ergoespirometer + RR–wearable)/2 (bpm)</text>
<text transform="translate(46.60,765.20) rotate(-90) scale(1,1.05)" font-size="15.4" text-anchor="middle" textLength="309.6" lengthAdjust="spacingAndGlyphs" fill="#000" stroke="#000" stroke-width="0.25" >RR–ergoespirometer - RR–wearable (bpm)</text>
<circle cx="204.84" cy="688.50" r="3.8" fill="#5a4ef8" stroke="#1c1c24" stroke-width="1.0"/>
<circle cx="236.71" cy="714.00" r="3.8" fill="#5a4ef8" stroke="#1c1c24" stroke-width="1.0"/>
<circle cx="182.54" cy="726.75" r="3.8" fill="#5a4ef8" stroke="#1c1c24" stroke-width="1.0"/>
<circle cx="201.65" cy="726.75" r="3.8" fill="#5a4ef8" stroke="#1c1c24" stroke-width="1.0"/>
<circle cx="208.03" cy="726.75" r="3.8" fill="#5a4ef8" stroke="#1c1c24" stroke-width="1.0"/>
<circle cx="227.15" cy="726.75" r="3.8" fill="#5a4ef8" stroke="#1c1c24" stroke-width="1.0"/>
<circle cx="239.89" cy="726.75" r="3.8" fill="#5a4ef8" stroke="#1c1c24" stroke-width="1.0"/>
<circle cx="252.64" cy="726.75" r="3.8" fill="#5a4ef8" stroke="#1c1c24" stroke-width="1.0"/>
<circle cx="265.38" cy="726.75" r="3.8" fill="#5a4ef8" stroke="#1c1c24" stroke-width="1.0"/>
<circle cx="271.76" cy="726.75" r="3.8" fill="#5a4ef8" stroke="#1c1c24" stroke-width="1.0"/>
<circle cx="179.35" cy="739.50" r="3.8" fill="#5a4ef8" stroke="#1c1c24" stroke-width="1.0"/>
<circle cx="185.72" cy="739.50" r="3.8" fill="#5a4ef8" stroke="#1c1c24" stroke-width="1.0"/>
<circle cx="217.59" cy="739.50" r="3.8" fill="#5a4ef8" stroke="#1c1c24" stroke-width="1.0"/>
<circle cx="223.96" cy="739.50" r="3.8" fill="#5a4ef8" stroke="#1c1c24" stroke-width="1.0"/>
<circle cx="230.33" cy="739.50" r="3.8" fill="#5a4ef8" stroke="#1c1c24" stroke-width="1.0"/>
<circle cx="243.08" cy="739.50" r="3.8" fill="#5a4ef8" stroke="#1c1c24" stroke-width="1.0"/>
<circle cx="249.45" cy="739.50" r="3.8" fill="#5a4ef8" stroke="#1c1c24" stroke-width="1.0"/>
<circle cx="262.20" cy="739.50" r="3.8" fill="#5a4ef8" stroke="#1c1c24" stroke-width="1.0"/>
<circle cx="268.57" cy="739.50" r="3.8" fill="#5a4ef8" stroke="#1c1c24" stroke-width="1.0"/>
<circle cx="274.94" cy="739.50" r="3.8" fill="#5a4ef8" stroke="#1c1c24" stroke-width="1.0"/>
<circle cx="287.69" cy="739.50" r="3.8" fill="#5a4ef8" stroke="#1c1c24" stroke-width="1.0"/>
<circle cx="294.06" cy="739.50" r="3.8" fill="#5a4ef8" stroke="#1c1c24" stroke-width="1.0"/>
<circle cx="300.44" cy="739.50" r="3.8" fill="#5a4ef8" stroke="#1c1c24" stroke-width="1.0"/>
<circle cx="345.05" cy="739.50" r="3.8" fill="#5a4ef8" stroke="#1c1c24" stroke-width="1.0"/>
<circle cx="176.16" cy="752.25" r="3.8" fill="#5a4ef8" stroke="#1c1c24" stroke-width="1.0"/>
<circle cx="182.54" cy="752.25" r="3.8" fill="#5a4ef8" stroke="#1c1c24" stroke-width="1.0"/>
<circle cx="195.28" cy="752.25" r="3.8" fill="#5a4ef8" stroke="#1c1c24" stroke-width="1.0"/>
<circle cx="201.65" cy="752.25" r="3.8" fill="#5a4ef8" stroke="#1c1c24" stroke-width="1.0"/>
<circle cx="214.40" cy="752.25" r="3.8" fill="#5a4ef8" stroke="#1c1c24" stroke-width="1.0"/>
<circle cx="227.15" cy="752.25" r="3.8" fill="#5a4ef8" stroke="#1c1c24" stroke-width="1.0"/>
<circle cx="233.52" cy="752.25" r="3.8" fill="#5a4ef8" stroke="#1c1c24" stroke-width="1.0"/>
<circle cx="239.89" cy="752.25" r="3.8" fill="#5a4ef8" stroke="#1c1c24" stroke-width="1.0"/>
<circle cx="246.27" cy="752.25" r="3.8" fill="#5a4ef8" stroke="#1c1c24" stroke-width="1.0"/>
<circle cx="252.64" cy="752.25" r="3.8" fill="#5a4ef8" stroke="#1c1c24" stroke-width="1.0"/>
<circle cx="259.01" cy="752.25" r="3.8" fill="#5a4ef8" stroke="#1c1c24" stroke-width="1.0"/>
<circle cx="265.38" cy="752.25" r="3.8" fill="#5a4ef8" stroke="#1c1c24" stroke-width="1.0"/>
<circle cx="271.76" cy="752.25" r="3.8" fill="#5a4ef8" stroke="#1c1c24" stroke-width="1.0"/>
<circle cx="278.13" cy="752.25" r="3.8" fill="#5a4ef8" stroke="#1c1c24" stroke-width="1.0"/>
<circle cx="284.50" cy="752.25" r="3.8" fill="#5a4ef8" stroke="#1c1c24" stroke-width="1.0"/>
<circle cx="290.88" cy="752.25" r="3.8" fill="#5a4ef8" stroke="#1c1c24" stroke-width="1.0"/>
<circle cx="297.25" cy="752.25" r="3.8" fill="#5a4ef8" stroke="#1c1c24" stroke-width="1.0"/>
<circle cx="303.62" cy="752.25" r="3.8" fill="#5a4ef8" stroke="#1c1c24" stroke-width="1.0"/>
<circle cx="316.37" cy="752.25" r="3.8" fill="#5a4ef8" stroke="#1c1c24" stroke-width="1.0"/>
<circle cx="322.74" cy="752.25" r="3.8" fill="#5a4ef8" stroke="#1c1c24" stroke-width="1.0"/>
<circle cx="329.11" cy="752.25" r="3.8" fill="#5a4ef8" stroke="#1c1c24" stroke-width="1.0"/>
<circle cx="335.49" cy="752.25" r="3.8" fill="#5a4ef8" stroke="#1c1c24" stroke-width="1.0"/>
<circle cx="354.61" cy="752.25" r="3.8" fill="#5a4ef8" stroke="#1c1c24" stroke-width="1.0"/>
<circle cx="367.35" cy="752.25" r="3.8" fill="#5a4ef8" stroke="#1c1c24" stroke-width="1.0"/>
<circle cx="380.10" cy="752.25" r="3.8" fill="#5a4ef8" stroke="#1c1c24" stroke-width="1.0"/>
<circle cx="399.22" cy="752.25" r="3.8" fill="#5a4ef8" stroke="#1c1c24" stroke-width="1.0"/>
<circle cx="411.96" cy="752.25" r="3.8" fill="#5a4ef8" stroke="#1c1c24" stroke-width="1.0"/>
<circle cx="424.71" cy="752.25" r="3.8" fill="#5a4ef8" stroke="#1c1c24" stroke-width="1.0"/>
<circle cx="450.20" cy="752.25" r="3.8" fill="#5a4ef8" stroke="#1c1c24" stroke-width="1.0"/>
<circle cx="462.95" cy="752.25" r="3.8" fill="#5a4ef8" stroke="#1c1c24" stroke-width="1.0"/>
<circle cx="172.98" cy="765.00" r="3.8" fill="#5a4ef8" stroke="#1c1c24" stroke-width="1.0"/>
<circle cx="185.72" cy="765.00" r="3.8" fill="#5a4ef8" stroke="#1c1c24" stroke-width="1.0"/>
<circle cx="192.09" cy="765.00" r="3.8" fill="#5a4ef8" stroke="#1c1c24" stroke-width="1.0"/>
<circle cx="217.59" cy="765.00" r="3.8" fill="#5a4ef8" stroke="#1c1c24" stroke-width="1.0"/>
<circle cx="223.96" cy="765.00" r="3.8" fill="#5a4ef8" stroke="#1c1c24" stroke-width="1.0"/>
<circle cx="230.33" cy="765.00" r="3.8" fill="#5a4ef8" stroke="#1c1c24" stroke-width="1.0"/>
<circle cx="236.71" cy="765.00" r="3.8" fill="#5a4ef8" stroke="#1c1c24" stroke-width="1.0"/>
<circle cx="243.08" cy="765.00" r="3.8" fill="#5a4ef8" stroke="#1c1c24" stroke-width="1.0"/>
<circle cx="249.45" cy="765.00" r="3.8" fill="#5a4ef8" stroke="#1c1c24" stroke-width="1.0"/>
<circle cx="255.83" cy="765.00" r="3.8" fill="#5a4ef8" stroke="#1c1c24" stroke-width="1.0"/>
<circle cx="262.20" cy="765.00" r="3.8" fill="#5a4ef8" stroke="#1c1c24" stroke-width="1.0"/>
<circle cx="268.57" cy="765.00" r="3.8" fill="#5a4ef8" stroke="#1c1c24" stroke-width="1.0"/>
<circle cx="281.32" cy="765.00" r="3.8" fill="#5a4ef8" stroke="#1c1c24" stroke-width="1.0"/>
<circle cx="287.69" cy="765.00" r="3.8" fill="#5a4ef8" stroke="#1c1c24" stroke-width="1.0"/>
<circle cx="294.06" cy="765.00" r="3.8" fill="#5a4ef8" stroke="#1c1c24" stroke-width="1.0"/>
<circle cx="313.18" cy="765.00" r="3.8" fill="#5a4ef8" stroke="#1c1c24" stroke-width="1.0"/>
<circle cx="319.56" cy="765.00" r="3.8" fill="#5a4ef8" stroke="#1c1c24" stroke-width="1.0"/>
<circle cx="351.42" cy="765.00" r="3.8" fill="#5a4ef8" stroke="#1c1c24" stroke-width="1.0"/>
<circle cx="357.79" cy="765.00" r="3.8" fill="#5a4ef8" stroke="#1c1c24" stroke-width="1.0"/>
<circle cx="376.91" cy="765.00" r="3.8" fill="#5a4ef8" stroke="#1c1c24" stroke-width="1.0"/>
<circle cx="383.29" cy="765.00" r="3.8" fill="#5a4ef8" stroke="#1c1c24" stroke-width="1.0"/>
<circle cx="396.03" cy="765.00" r="3.8" fill="#5a4ef8" stroke="#1c1c24" stroke-width="1.0"/>
<circle cx="427.90" cy="765.00" r="3.8" fill="#5a4ef8" stroke="#1c1c24" stroke-width="1.0"/>
<circle cx="440.64" cy="765.00" r="3.8" fill="#5a4ef8" stroke="#1c1c24" stroke-width="1.0"/>
<circle cx="447.01" cy="765.00" r="3.8" fill="#5a4ef8" stroke="#1c1c24" stroke-width="1.0"/>
<circle cx="169.79" cy="777.75" r="3.8" fill="#5a4ef8" stroke="#1c1c24" stroke-width="1.0"/>
<circle cx="182.54" cy="777.75" r="3.8" fill="#5a4ef8" stroke="#1c1c24" stroke-width="1.0"/>
<circle cx="188.91" cy="777.75" r="3.8" fill="#5a4ef8" stroke="#1c1c24" stroke-width="1.0"/>
<circle cx="195.28" cy="777.75" r="3.8" fill="#5a4ef8" stroke="#1c1c24" stroke-width="1.0"/>
<circle cx="214.40" cy="777.75" r="3.8" fill="#5a4ef8" stroke="#1c1c24" stroke-width="1.0"/>
<circle cx="227.15" cy="777.75" r="3.8" fill="#5a4ef8" stroke="#1c1c24" stroke-width="1.0"/>
<circle cx="233.52" cy="777.75" r="3.8" fill="#5a4ef8" stroke="#1c1c24" stroke-width="1.0"/>
<circle cx="246.27" cy="777.75" r="3.8" fill="#5a4ef8" stroke="#1c1c24" stroke-width="1.0"/>
<circle cx="265.38" cy="777.75" r="3.8" fill="#5a4ef8" stroke="#1c1c24" stroke-width="1.0"/>
<circle cx="284.50" cy="777.75" r="3.8" fill="#5a4ef8" stroke="#1c1c24" stroke-width="1.0"/>
<circle cx="290.88" cy="777.75" r="3.8" fill="#5a4ef8" stroke="#1c1c24" stroke-width="1.0"/>
<circle cx="310.00" cy="777.75" r="3.8" fill="#5a4ef8" stroke="#1c1c24" stroke-width="1.0"/>
<circle cx="392.84" cy="777.75" r="3.8" fill="#5a4ef8" stroke="#1c1c24" stroke-width="1.0"/>
<circle cx="431.08" cy="777.75" r="3.8" fill="#5a4ef8" stroke="#1c1c24" stroke-width="1.0"/>
<circle cx="166.60" cy="790.50" r="3.8" fill="#5a4ef8" stroke="#1c1c24" stroke-width="1.0"/>
<circle cx="172.98" cy="790.50" r="3.8" fill="#5a4ef8" stroke="#1c1c24" stroke-width="1.0"/>
<circle cx="192.09" cy="790.50" r="3.8" fill="#5a4ef8" stroke="#1c1c24" stroke-width="1.0"/>
<circle cx="198.47" cy="790.50" r="3.8" fill="#5a4ef8" stroke="#1c1c24" stroke-width="1.0"/>
<circle cx="255.83" cy="790.50" r="3.8" fill="#5a4ef8" stroke="#1c1c24" stroke-width="1.0"/>
<circle cx="163.42" cy="803.25" r="3.8" fill="#5a4ef8" stroke="#1c1c24" stroke-width="1.0"/>
<circle cx="188.91" cy="803.25" r="3.8" fill="#5a4ef8" stroke="#1c1c24" stroke-width="1.0"/>
<circle cx="195.28" cy="803.25" r="3.8" fill="#5a4ef8" stroke="#1c1c24" stroke-width="1.0"/>
<circle cx="220.77" cy="803.25" r="3.8" fill="#5a4ef8" stroke="#1c1c24" stroke-width="1.0"/>
<circle cx="252.64" cy="803.25" r="3.8" fill="#5a4ef8" stroke="#1c1c24" stroke-width="1.0"/>
<circle cx="160.23" cy="816.00" r="3.8" fill="#5a4ef8" stroke="#1c1c24" stroke-width="1.0"/>
<circle cx="166.60" cy="816.00" r="3.8" fill="#5a4ef8" stroke="#1c1c24" stroke-width="1.0"/>
<circle cx="172.98" cy="816.00" r="3.8" fill="#5a4ef8" stroke="#1c1c24" stroke-width="1.0"/>
<circle cx="169.79" cy="828.75" r="3.8" fill="#5a4ef8" stroke="#1c1c24" stroke-width="1.0"/>
<circle cx="208.03" cy="828.75" r="3.8" fill="#5a4ef8" stroke="#1c1c24" stroke-width="1.0"/>
</svg>
</body></html>
